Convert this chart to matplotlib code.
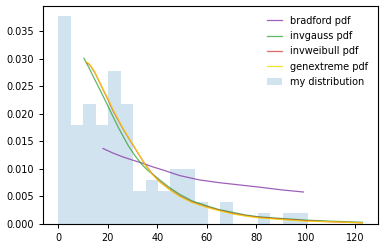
import matplotlib
matplotlib.use("Agg")
import matplotlib.pyplot as plt

# histogram (density), bin width ~5.04
bin_width = 5.04
hist_heights = [0.0377, 0.0179, 0.0218, 0.0179, 0.0278, 0.0218, 0.0060, 0.0079,
                0.0060, 0.0099, 0.0099, 0.0040, 0.0, 0.0040, 0.0, 0.0, 0.0020,
                0.0, 0.0020, 0.0020]
bin_left = [i * bin_width for i in range(len(hist_heights))]

# fitted pdfs
brad_x = [18.1, 22, 26, 30, 33.6, 38, 43, 49, 57, 65, 73, 81, 90, 99.1]
brad_y = [0.0137, 0.0129, 0.0122, 0.0116, 0.0111, 0.0104, 0.0097, 0.0088, 0.0080,
          0.0075, 0.0071, 0.0067, 0.0062, 0.0058]

ig_x = [10.4, 12.5, 14.8, 17.5, 20.2, 24.2, 28.2, 31, 33.6, 36, 41, 45, 49, 54, 60,
        65, 70.6, 76, 81, 90, 100, 110, 122.9]
ig_y = [0.0301, 0.0283, 0.0262, 0.0238, 0.0213, 0.0176, 0.0143, 0.0124, 0.0109, 0.0098,
        0.0080, 0.0066, 0.0054, 0.0042, 0.0033, 0.0026, 0.0021, 0.0016, 0.0013, 0.0010,
        0.0007, 0.0005, 0.0003]

iw_x = [11.5, 12.5, 13.5, 14.8, 16.1, 18, 20.2, 22, 24.2, 26, 28.2, 30, 32.3, 35, 38,
        41, 45, 49, 54, 60, 65, 70.6, 76, 81, 90, 100, 110, 122.9]
iw_y = [0.0293, 0.0290, 0.0284, 0.0275, 0.0263, 0.0245, 0.0225, 0.0207, 0.0189, 0.0174,
        0.0158, 0.0145, 0.0128, 0.0109, 0.0091, 0.0077, 0.0063, 0.0051, 0.0040, 0.0031,
        0.0025, 0.0019, 0.0015, 0.0012, 0.0009, 0.0006, 0.0004, 0.0002]

ge_x = [11.5, 12.5, 13.5, 14.8, 16.1, 18, 20.2, 22, 24.2, 26, 28.2, 30, 32.3, 35, 38,
        41, 45, 49, 54, 60, 65, 70.6, 76, 81, 90, 100, 110, 122.9]
ge_y = [0.0294, 0.0291, 0.0285, 0.0276, 0.0264, 0.0246, 0.0227, 0.0209, 0.0191, 0.0175,
        0.0159, 0.0146, 0.0129, 0.0108, 0.0090, 0.0076, 0.0062, 0.0050, 0.0039, 0.0030,
        0.0024, 0.0018, 0.0014, 0.0011, 0.0008, 0.0005, 0.0004, 0.0002]

fig = plt.figure(figsize=(3.84, 2.48), dpi=100)
ax = fig.add_axes([0.112, 0.097, 0.872, 0.879])

ax.plot(brad_x, brad_y, color='#8e44ad', lw=0.9, alpha=0.85, label='bradford pdf')
ax.plot(ig_x, ig_y, color='#2ca02c', lw=0.9, alpha=0.75, label='invgauss pdf')
ax.plot(iw_x, iw_y, color='#d62728', lw=0.9, alpha=0.7, label='invweibull pdf')
ax.plot(ge_x, ge_y, color='#f5d800', lw=0.9, alpha=0.8, label='genextreme pdf')
ax.bar(bin_left, hist_heights, width=bin_width, align='edge', color='#1f77b4',
       alpha=0.2, label='my distribution')

ax.set_xlim(-6.15, 129.15)
ax.set_ylim(0, 0.0396)
ax.set_xticks([0, 20, 40, 60, 80, 100, 120])
ax.set_yticks([0, 0.005, 0.01, 0.015, 0.02, 0.025, 0.03, 0.035])
ax.set_yticklabels(['0.000', '0.005', '0.010', '0.015', '0.020', '0.025', '0.030', '0.035'])
ax.tick_params(labelsize=7, length=3, width=0.7)
for s in ax.spines.values():
    s.set_linewidth(0.8)

ax.legend(loc='upper right', frameon=False, fontsize=7, handlelength=1.6,
          labelspacing=0.55, borderaxespad=0.6)

fig.savefig('out.png', dpi=100)
